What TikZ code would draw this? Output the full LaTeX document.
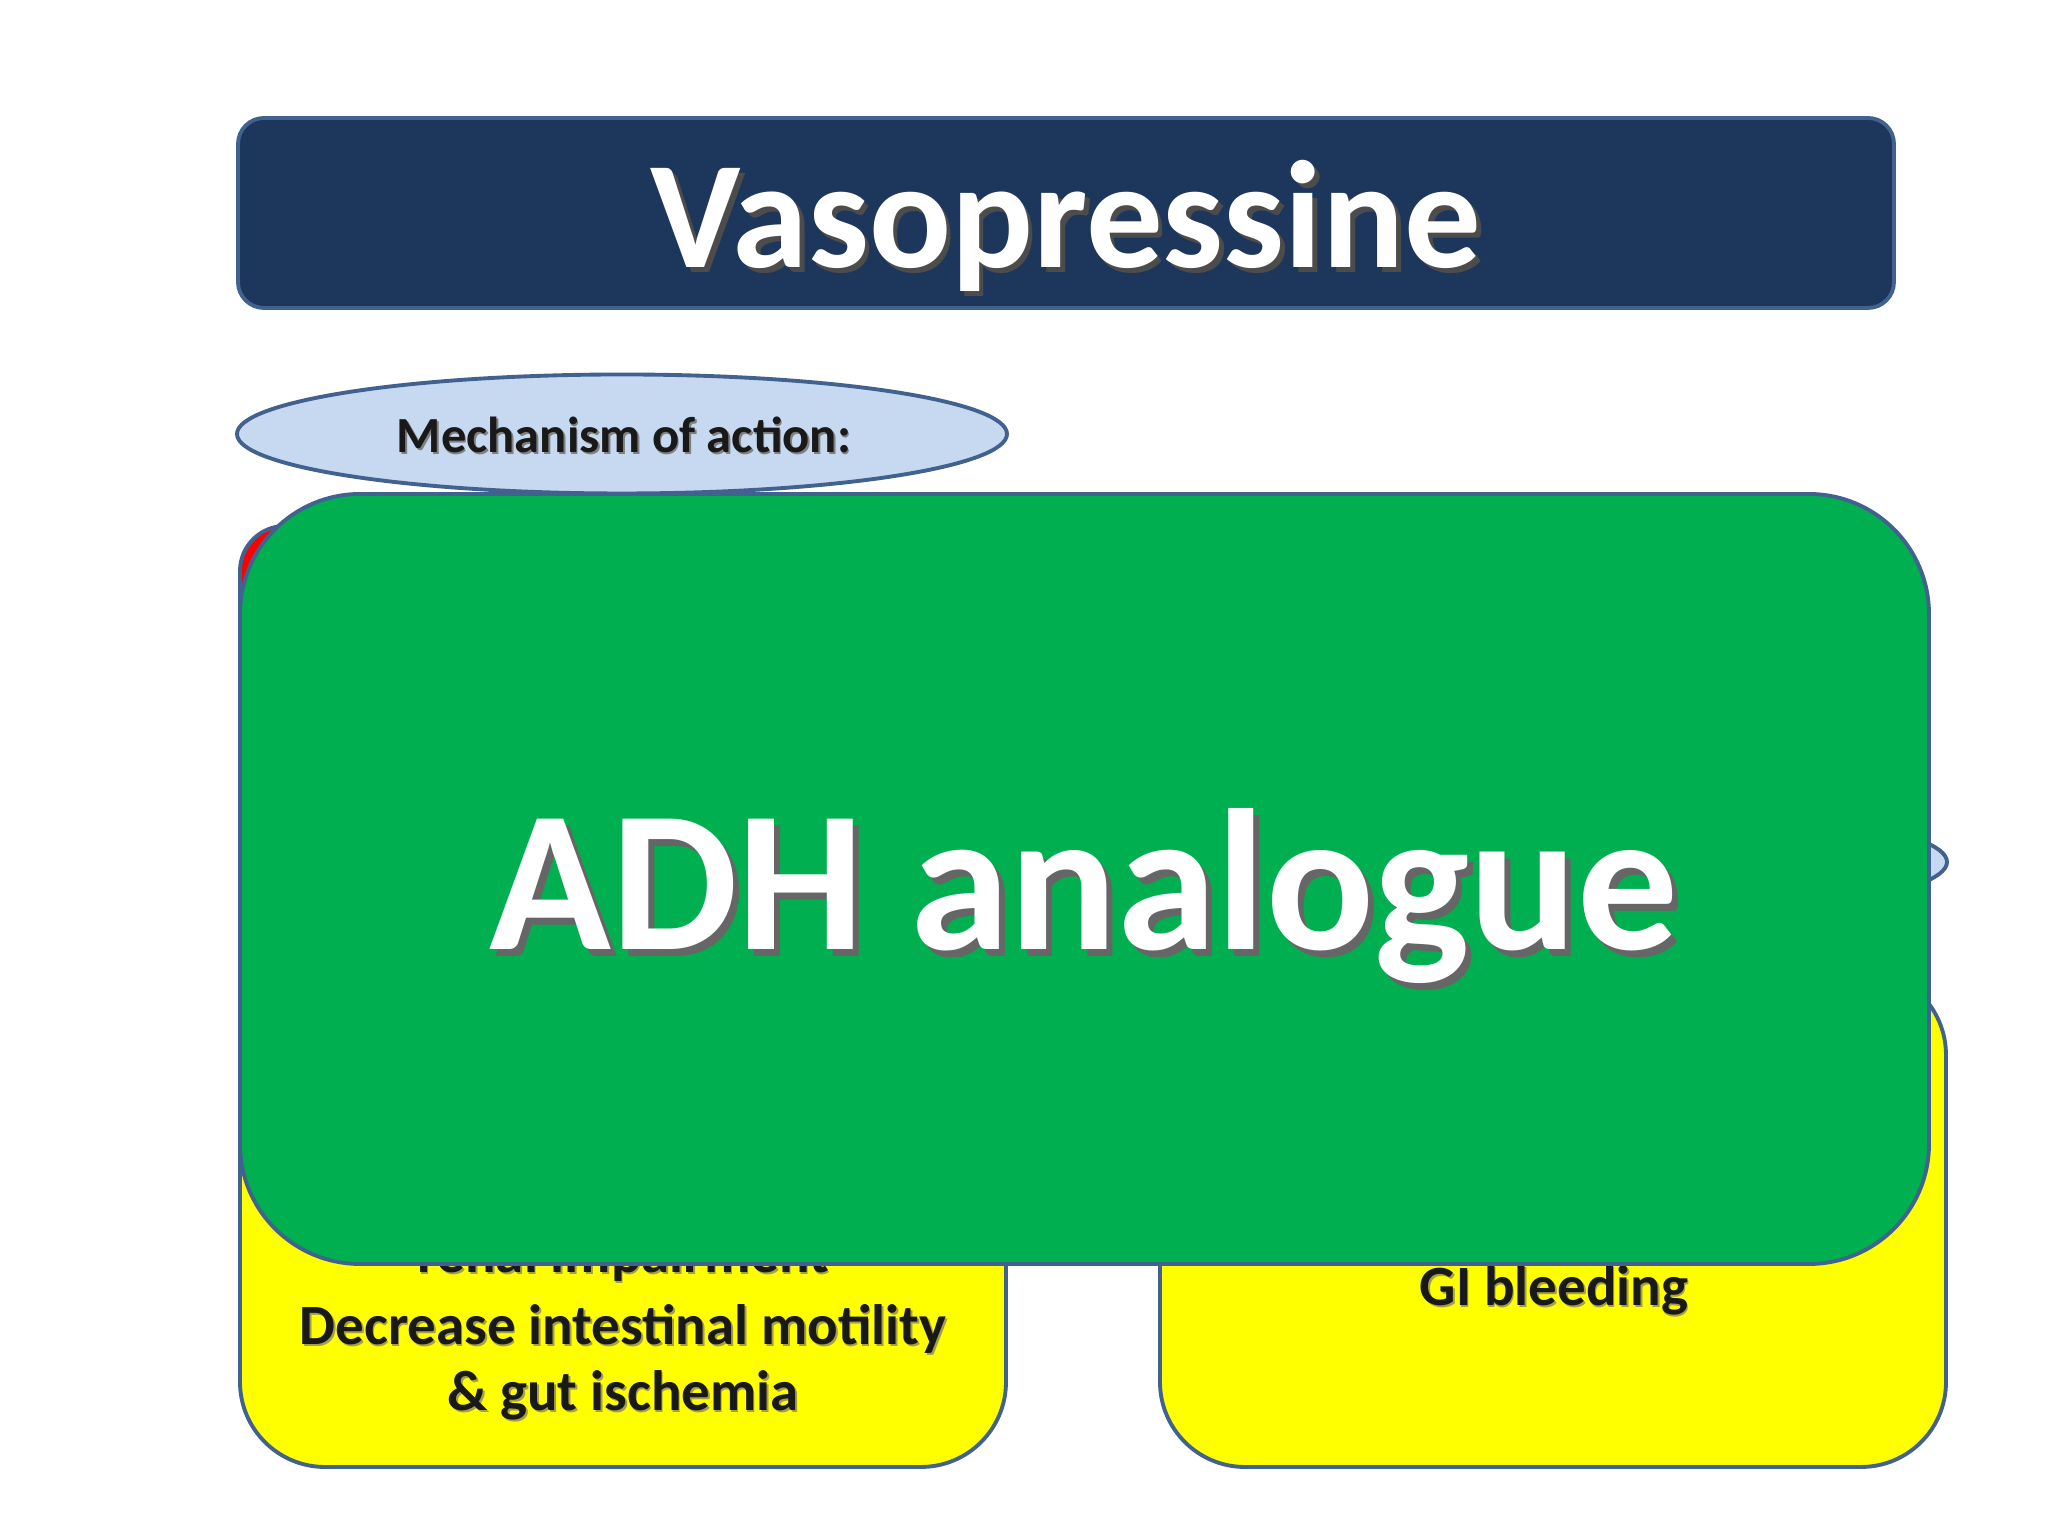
\documentclass[tikz,border=0pt]{standalone}
\usepackage{fontspec}
\setmainfont{Carlito}
\usepackage{tikz}
\usetikzlibrary{shapes.geometric}
\definecolor{navy}{RGB}{28,54,92}
\definecolor{edgeblue}{RGB}{65,97,143}
\definecolor{paleblue}{RGB}{198,217,241}
\definecolor{slidegreen}{RGB}{0,176,80}
\definecolor{slidered}{RGB}{255,0,0}
\definecolor{slideyellow}{RGB}{255,255,0}
% text with a soft drop shadow
\newcommand\shtxt[2][black!50]{\makebox[0pt][l]{\hspace{0.03em}\raisebox{-0.03em}{\textcolor{#1}{#2}}}#2}
\tikzset{
  panel/.style={draw=edgeblue, line width=1.1pt},
  bubble/.style={panel, fill=paleblue, ellipse, minimum width=7.7cm, minimum height=1.19cm, inner sep=0pt},
  bodytext/.style={anchor=base, text=black!90, font=\bfseries\fontsize{16.2}{19.6}\selectfont}
}

\begin{document}
\begin{tikzpicture}
			%%%%% START %%%%%
			\fill[white] (0, 0) rectangle (20.48, 15.36);
			\useasboundingbox (0, 0) rectangle (20.48, 15.36);
			
			% title bar
			\draw[panel, fill=navy, rounded corners=0.26cm] (2.38, 12.28) rectangle (18.94, 14.18);
			\node[anchor=base, text=white, font=\bfseries\fontsize{43.5}{50}\selectfont] (title) at (10.66, 12.68) {\shtxt[black!70]{Vasopressine}};
			
			% bubbles
			\node[bubble] (mech) at (6.22, 11.02) {};
			\node[anchor=base, text=black!90, font=\bfseries\fontsize{14.4}{17}\selectfont] (mechtext) at (6.24, 10.83) {\shtxt{Mechanism of action:}};
			\node[bubble] (sidebubble) at (15.62, 6.74) {};
			
			% boxes behind
			\draw[panel, fill=slidered, rounded corners=0.45cm] (2.40, 5.80) rectangle (10.06, 10.10);
			\draw[panel, fill=slideyellow, rounded corners=0.85cm] (2.40, 0.69) rectangle (10.06, 5.51);
			\draw[panel, fill=slideyellow, rounded corners=0.85cm] (11.60, 0.69) rectangle (19.46, 5.66);
			
			\node[bodytext] (renal) at (6.23, 2.63) {\shtxt[black!40!yellow]{renal impairment}};
			\node[bodytext] (motility) at (6.23, 1.91) {\shtxt[black!40!yellow]{Decrease intestinal motility}};
			\node[bodytext] (ischemia) at (6.23, 1.25) {\shtxt[black!40!yellow]{\& gut ischemia}};
			\node[bodytext] (bleeding) at (15.54, 2.30) {\shtxt[black!40!yellow]{GI bleeding}};
			
			% front card
			\draw[panel, fill=slidegreen, rounded corners=1.2cm] (2.40, 2.72) rectangle (19.29, 10.42);
			\node[anchor=base, text=white, font=\bfseries\fontsize{57.2}{66}\selectfont] (adh) at (10.84, 5.86) {\shtxt[black!60]{ADH analogue}};
			
			%%%%% END %%%%%
\end{tikzpicture}
\end{document}
